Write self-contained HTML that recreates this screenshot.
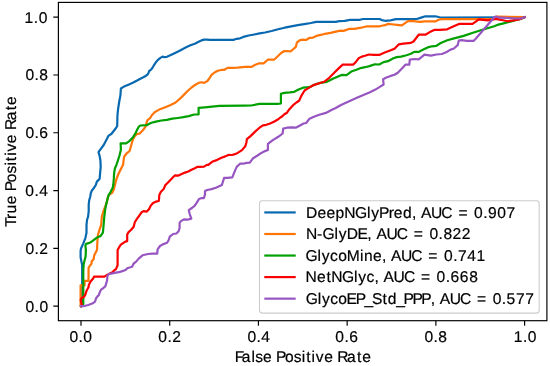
<!DOCTYPE html><html><head><meta charset="utf-8"><title>ROC curves</title><style>html,body{margin:0;padding:0;background:#fff;overflow:hidden;}svg{display:block;will-change:transform;}text{font-family:"Liberation Sans",sans-serif;fill:#000;font-kerning:none;text-rendering:geometricPrecision;}</style></head><body>
<svg width="550" height="366" viewBox="0 0 550 366">
<rect width="550" height="366" fill="#fff"/>
<g fill="none" stroke-width="2.2" stroke-linejoin="round" stroke-linecap="square">
<polyline stroke="#0868b0" points="81.0,306.1 82.2,300.0 82.2,265.0 81.4,261.5 80.6,257.4 80.6,251.0 81.0,248.5 83.2,243.6 85.4,238.1 86.5,232.7 86.5,225.0 87.0,220.0 88.1,216.7 88.7,211.2 88.7,204.7 89.2,200.3 90.3,196.5 90.8,193.2 91.9,190.5 94.1,187.7 95.8,185.0 96.9,181.6 99.6,178.9 100.1,173.4 100.7,166.9 100.4,160.3 99.6,155.9 98.5,152.1 101.2,148.3 103.7,145.0 105.8,141.1 107.5,137.8 108.6,135.6 111.3,134.0 113.5,131.2 116.0,128.0 117.2,126.2 117.4,117.0 117.7,112.5 118.1,109.0 118.7,105.0 119.5,100.0 120.4,95.6 120.7,91.2 120.9,88.5 124.0,86.6 128.4,84.7 132.8,82.8 136.6,80.8 140.4,78.7 144.8,76.5 147.5,74.6 148.6,72.7 149.2,71.0 150.8,69.9 152.2,68.3 153.8,65.5 155.5,62.8 157.7,60.1 160.4,57.9 162.6,56.6 164.2,57.1 166.9,56.8 170.8,55.1 175.1,53.0 180.6,50.2 186.1,47.3 190.4,45.3 194.8,43.7 198.6,41.8 201.4,40.4 204.1,39.6 206.8,39.6 210.0,39.8 233.4,39.9 236.7,38.8 240.0,38.3 243.3,36.9 248.7,35.5 254.2,34.5 259.6,33.4 265.0,32.5 271.6,31.0 278.1,29.3 284.7,27.7 291.2,26.3 297.8,25.2 304.3,24.1 310.9,23.0 316.2,21.9 322.7,21.8 335.8,21.8 339.2,21.1 344.7,20.8 350.1,19.8 360.0,19.8 363.3,19.0 379.6,19.0 381.8,20.1 385.0,20.8 390.5,20.3 395.9,19.2 406.9,19.2 416.7,19.0 421.1,17.6 425.4,16.3 435.3,16.3 439.6,17.3 441.8,17.5 524.6,17.2"/>
<polyline stroke="#ff7508" points="81.0,306.1 80.6,305.0 80.6,285.3 84.6,285.3 84.6,280.9 88.5,280.9 88.6,267.6 90.0,265.6 91.6,263.5 91.6,261.5 93.7,259.0 94.1,255.7 95.3,253.3 97.0,250.0 97.4,241.4 98.0,234.8 99.6,229.4 101.2,225.0 101.8,216.7 103.4,211.2 105.1,206.9 106.7,202.5 107.8,197.6 108.9,194.8 112.2,192.7 113.8,189.4 114.9,185.0 116.5,178.9 118.2,174.5 119.8,171.2 121.4,168.0 123.1,164.7 123.6,160.3 124.2,156.5 126.4,153.7 129.6,151.0 131.3,145.0 132.1,142.2 133.2,138.9 134.8,136.1 137.0,134.0 139.7,133.6 143.1,130.1 145.8,126.2 146.4,123.0 147.5,120.2 150.2,118.0 151.8,115.3 155.0,112.0 159.2,109.6 164.7,107.4 170.1,105.2 175.6,102.5 180.0,98.7 183.3,95.4 187.6,91.0 191.6,87.5 195.4,84.7 198.7,82.9 201.4,82.3 204.1,82.9 207.4,81.0 209.6,78.0 211.8,74.7 214.5,72.5 217.8,70.8 222.2,69.8 224.3,69.8 227.6,67.9 232.0,67.9 237.5,67.6 245.0,66.9 251.6,66.9 254.8,65.0 259.2,63.3 263.6,63.3 268.0,59.5 274.0,59.7 277.8,56.2 281.1,53.0 284.3,51.0 290.9,51.3 293.6,48.8 295.8,46.9 296.9,42.6 299.6,40.4 302.7,39.6 306.0,40.0 309.8,37.8 313.1,37.6 317.5,35.6 321.8,34.7 325.0,33.8 330.5,32.9 335.9,31.6 340.3,30.7 343.6,30.9 349.6,28.8 354.5,28.8 361.1,27.7 367.1,26.3 379.6,26.3 382.9,25.5 385.0,25.2 388.3,23.8 393.7,24.5 397.0,24.9 401.9,25.4 404.7,23.4 408.0,21.2 412.3,20.8 415.6,21.4 420.0,21.9 424.3,21.4 435.3,21.4 438.6,19.8 441.8,19.1 494.0,19.1 496.5,16.6 524.6,17.0"/>
<polyline stroke="#00a000" points="81.0,306.1 82.6,305.4 83.3,304.0 83.3,270.0 83.7,263.9 84.7,259.8 85.6,256.6 85.9,250.0 85.4,245.8 85.9,244.1 87.0,243.6 90.3,242.5 91.9,241.4 96.9,237.6 100.7,235.9 102.9,232.7 103.6,225.0 104.3,216.7 105.1,210.1 106.1,204.7 107.2,200.3 108.3,195.9 110.5,192.1 112.7,187.7 113.3,185.0 113.8,178.9 114.1,173.4 114.9,168.5 116.5,164.7 117.9,160.5 119.5,155.5 120.9,149.8 120.7,145.0 120.6,143.3 126.1,143.3 129.3,141.1 132.6,137.8 135.4,133.4 137.0,130.1 138.6,126.9 140.3,125.5 146.8,125.2 148.3,124.3 151.6,122.7 155.9,121.6 161.4,120.5 166.9,119.8 172.3,118.7 177.8,118.0 183.3,117.2 188.7,116.1 194.2,114.5 198.6,114.3 198.6,107.8 205.0,107.3 212.0,106.6 219.6,105.8 244.0,105.6 251.4,105.5 259.5,103.9 277.7,103.9 280.9,103.5 280.9,93.8 284.4,92.9 289.8,92.4 294.2,91.8 298.6,89.6 303.0,87.7 309.4,87.2 314.8,84.5 320.3,82.9 326.9,81.8 333.4,78.5 341.6,74.9 346.5,75.2 352.0,71.2 356.4,69.8 360.7,68.1 365.0,67.2 369.4,66.1 374.8,64.3 379.2,64.5 383.6,62.1 388.0,61.2 393.4,58.2 396.7,57.1 401.1,56.6 406.5,55.2 410.9,53.8 414.2,51.9 418.6,51.9 421.8,50.3 423.3,49.6 427.7,47.4 432.0,46.3 436.4,45.8 440.8,43.0 447.3,40.3 455.0,38.1 463.7,35.9 471.4,33.2 480.0,30.5 486.6,28.5 494.2,26.3 497.3,24.9 504.5,23.1 510.4,21.6 515.5,20.2 521.3,18.7 524.6,17.2"/>
<polyline stroke="#fa0000" points="81.0,306.1 81.8,305.0 81.3,302.8 80.7,300.0 81.3,298.4 84.0,296.8 85.1,295.1 86.8,290.2 88.4,287.5 88.9,284.8 90.6,281.5 93.3,278.2 94.1,276.6 104.4,276.6 107.0,274.9 112.4,272.2 114.6,270.0 116.0,269.1 117.6,265.3 117.6,250.1 119.3,246.9 120.9,244.7 125.3,241.6 127.2,241.1 127.2,234.6 128.3,232.4 131.2,229.8 133.7,226.7 134.8,222.3 136.4,219.6 139.1,215.8 141.9,211.9 143.5,211.2 146.8,211.6 149.0,209.2 150.6,205.9 152.8,203.2 156.1,201.6 158.8,201.0 159.1,198.3 159.3,195.0 160.9,191.7 163.7,189.0 165.3,185.1 167.5,183.0 170.2,180.2 173.0,177.3 175.1,175.3 178.4,175.6 181.7,174.0 185.0,172.6 188.3,171.5 191.5,169.8 194.8,168.2 197.5,166.8 200.3,166.8 204.1,166.6 206.8,164.9 208.3,164.8 212.1,161.8 215.9,160.4 221.4,157.7 224.7,156.6 228.5,154.9 231.5,155.0 233.3,154.7 237.7,152.9 242.0,150.1 245.3,146.3 246.4,142.5 246.9,139.2 250.8,135.9 255.1,131.6 259.5,127.7 263.0,125.3 266.2,124.8 269.5,123.7 273.9,121.8 278.3,119.3 280.0,117.8 282.6,116.0 284.4,114.3 287.0,112.7 288.7,110.1 293.1,105.2 296.4,102.5 299.1,100.8 301.3,95.9 304.6,90.5 308.4,88.1 312.8,85.5 313.7,85.1 319.2,83.2 324.1,81.8 329.0,78.0 334.5,72.5 338.9,68.1 342.7,64.6 353.1,64.6 355.3,62.7 358.6,58.3 361.8,56.6 365.0,55.8 368.8,54.5 373.7,54.9 379.2,54.9 384.7,52.5 390.1,50.5 394.5,48.7 398.9,44.3 403.3,43.7 410.9,42.9 413.5,41.5 418.9,34.5 425.4,34.7 429.8,32.1 434.2,29.9 439.7,29.9 447.1,29.3 453.7,26.3 459.0,23.9 472.5,23.9 476.1,21.4 478.9,19.3 483.3,19.8 487.6,20.3 492.0,19.6 495.8,18.9 500.9,19.8 507.5,21.3 511.8,20.6 519.1,19.5 524.6,17.2"/>
<polyline stroke="#9655c0" points="81.0,306.1 82.4,306.1 85.1,305.8 88.4,305.0 92.8,303.3 95.0,301.7 96.0,298.4 97.1,296.8 98.8,295.1 99.9,291.9 101.0,289.7 102.6,288.6 105.3,286.4 107.0,280.9 107.5,275.5 109.2,273.8 112.4,273.3 115.7,272.7 119.0,272.2 122.3,271.1 125.6,270.0 127.2,268.2 132.1,266.8 133.7,263.5 135.9,261.9 138.7,258.6 142.5,255.3 148.0,254.0 152.3,253.7 157.2,253.7 157.6,249.3 160.0,246.0 162.7,244.4 167.1,242.8 168.7,240.0 169.8,236.7 173.1,234.0 176.4,233.5 178.6,231.3 179.6,228.0 179.6,222.8 180.9,221.1 184.2,219.3 187.5,219.7 191.3,218.6 189.7,214.0 188.8,210.2 191.9,208.0 194.6,205.8 196.8,202.6 199.0,199.0 201.1,198.2 203.9,198.2 205.0,194.4 205.0,191.1 207.2,190.0 211.6,189.1 215.9,187.7 221.9,185.0 224.1,177.9 227.4,177.9 232.3,177.3 234.5,171.9 236.7,166.9 240.0,163.7 243.3,163.7 246.5,162.9 249.8,162.6 253.1,158.2 257.5,155.5 261.8,152.7 265.0,151.1 267.9,150.0 267.9,143.9 272.8,140.1 278.3,136.8 282.6,133.5 283.2,128.6 287.0,127.7 291.4,127.3 295.7,127.7 300.0,125.5 303.5,123.5 306.2,123.0 309.5,118.7 313.9,116.7 319.3,114.7 325.9,112.9 331.4,110.1 335.7,108.0 341.0,105.0 345.9,102.7 351.4,100.2 356.9,97.8 363.4,95.1 370.0,92.3 375.4,89.6 379.8,86.9 383.6,84.5 383.1,79.2 386.4,77.6 390.7,75.9 394.5,74.8 397.8,72.7 402.2,68.3 405.4,64.7 409.3,64.7 409.8,59.6 414.2,59.0 418.6,59.3 421.8,56.9 424.4,54.7 430.9,55.6 436.4,54.5 441.9,54.0 446.2,52.3 450.6,49.6 453.9,48.5 457.7,45.2 458.8,40.6 461.4,40.2 466.9,40.8 473.6,40.9 475.5,39.0 480.0,33.8 485.0,28.0 490.0,22.2 494.4,17.0 496.0,16.6 498.7,17.3 508.2,18.0 515.5,18.5 521.0,18.5 524.6,17.2"/>
</g>
<rect x="58.4" y="2.4" width="488.50" height="318.30" fill="none" stroke="#000" stroke-width="1.17"/>
<path d="M81.00 320.70v5.1 M58.40 306.10h-5.1 M169.72 320.70v5.1 M58.40 248.32h-5.1 M258.44 320.70v5.1 M58.40 190.54h-5.1 M347.16 320.70v5.1 M58.40 132.76h-5.1 M435.88 320.70v5.1 M58.40 74.98h-5.1 M524.60 320.70v5.1 M58.40 17.20h-5.1" stroke="#000" stroke-width="1.17" fill="none"/>
<rect x="259.5" y="200.8" width="279.70" height="112.30" rx="2.9" ry="2.9" fill="#fff" fill-opacity="0.8" stroke="#cccccc" stroke-width="1.1"/>
<line x1="264.3" y1="212.45" x2="295.7" y2="212.45" stroke="#0868b0" stroke-width="2.2"/>
<line x1="264.3" y1="234.00" x2="295.7" y2="234.00" stroke="#ff7508" stroke-width="2.2"/>
<line x1="264.3" y1="255.55" x2="295.7" y2="255.55" stroke="#00a000" stroke-width="2.2"/>
<line x1="264.3" y1="277.10" x2="295.7" y2="277.10" stroke="#fa0000" stroke-width="2.2"/>
<line x1="264.3" y1="298.65" x2="295.7" y2="298.65" stroke="#9655c0" stroke-width="2.2"/>
<g font-size="15.6" stroke="#000" stroke-width="0.2">
<text x="25.45 34.60 39.40" y="311.60">0.0</text>
<text x="25.45 34.60 39.21" y="253.82">0.2</text>
<text x="25.35 34.50 39.30" y="196.04">0.4</text>
<text x="25.40 34.55 39.35" y="138.26">0.6</text>
<text x="25.40 34.55 39.35" y="80.48">0.8</text>
<text x="24.62 33.85 38.65" y="22.70">1.0</text>
<text x="69.40 78.55 83.35" y="341.90">0.0</text>
<text x="158.37 167.52 172.13" y="341.90">0.2</text>
<text x="247.39 256.54 261.34" y="341.90">0.4</text>
<text x="335.36 344.51 349.31" y="341.90">0.6</text>
<text x="424.38 433.53 438.33" y="341.90">0.8</text>
<text x="513.67 522.90 527.70" y="341.90">1.0</text>
<text x="234.64 241.86 251.54 255.32 263.11 272.08 276.01 285.02 293.85 301.77 306.18 311.56 315.74 324.16 333.13 337.29 346.99 357.03 362.29" y="361.90">False Positive Rate</text>
<text transform="translate(16.00 226.50) rotate(-90)" x="-0.31 7.48 13.07 22.27 31.24 35.17 44.18 53.01 60.92 65.34 70.72 74.90 83.32 92.29 96.45 106.15 116.19 121.45" y="0">True Positive Rate</text>
<text x="305.95 317.39 326.39 335.59 344.31 355.02 367.06 371.24 378.91 388.73 393.87 402.89 411.97 416.77 421.05 430.98 441.35 452.34 458.40 469.24 474.04 483.19 487.95 497.30 506.57" y="217.80">DeepNGlyPred, AUC = 0.907</text>
<text x="305.92 317.07 322.40 334.44 338.63 346.87 357.48 367.37 372.17 376.45 386.38 396.75 407.74 413.80 424.64 429.44 438.59 443.39 452.51 461.81" y="239.35">N-GlyDE, AUC = 0.822</text>
<text x="305.53 317.58 321.76 329.93 338.17 346.79 359.91 363.99 373.12 381.94 386.74 391.02 400.95 411.32 422.31 428.36 439.21 444.01 453.16 457.93 467.27 476.49" y="260.90">GlycoMine, AUC = 0.741</text>
<text x="305.62 316.92 326.39 331.29 342.00 354.04 358.22 366.40 374.51 379.30 383.58 393.51 403.89 414.87 420.93 431.78 436.57 445.72 450.53 459.83 469.14" y="282.45">NetNGlyc, AUC = 0.668</text>
<text x="305.73 317.78 321.96 330.13 338.37 346.54 355.86 364.59 372.07 382.50 387.79 396.20 403.61 412.43 421.25 430.64 435.43 439.71 449.64 460.01 471.00 477.06 487.91 492.70 501.85 506.60 515.93 525.24" y="304.00">GlycoEP_Std_PPP, AUC = 0.577</text>
</g></svg></body></html>
